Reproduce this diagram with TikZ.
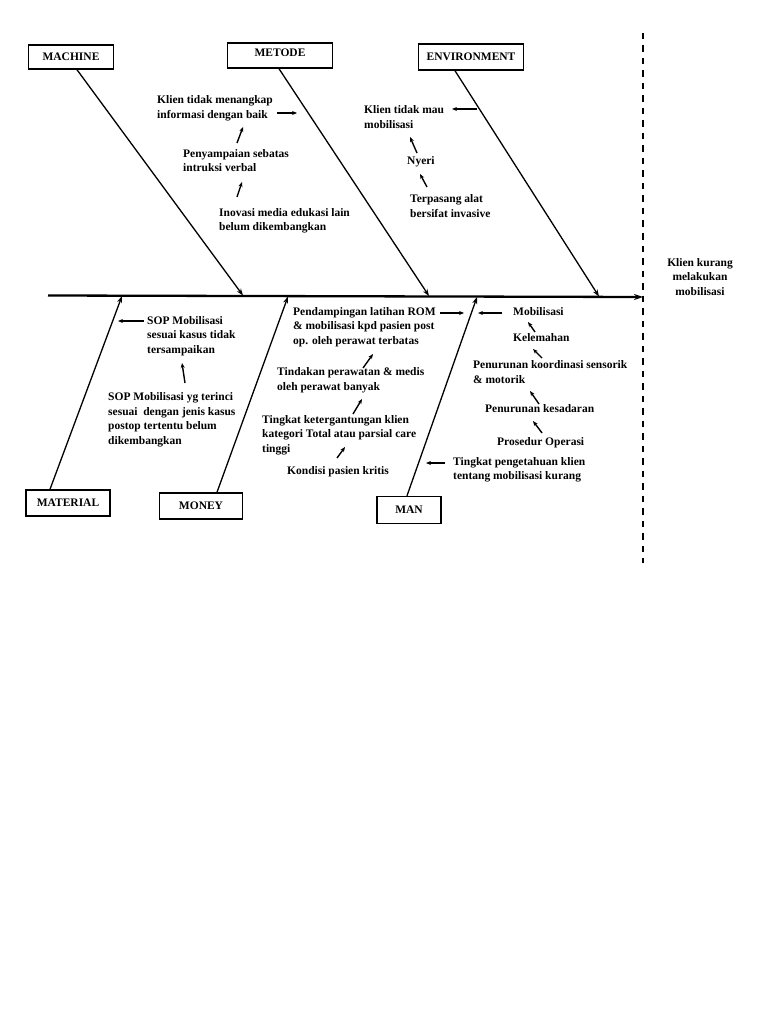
\documentclass[tikz,border=0pt]{standalone}
\usepackage{fontspec}
\setmainfont{Liberation Serif}
\usetikzlibrary{arrows.meta}

\begin{document}
\begin{tikzpicture}[x=1pt, y=-1pt,
	kotak/.style={draw, line width=1.5pt, inner sep=0pt, font=\bfseries\fontsize{11.5}{13}\selectfont},
	teks/.style={anchor=west, align=left, inner sep=0pt, font=\bfseries\fontsize{11.5}{14.5}\selectfont},
	tulang/.style={line width=1.3pt, -{Stealth[length=7pt,width=5pt]}},
	panah/.style={line width=1.4pt, -{Stealth[length=5pt,width=4pt]}}]
				\useasboundingbox (0,0) rectangle (768,1024);
				% kategori
				\node [kotak, minimum width=85pt, minimum height=24pt] (machine) at (71,57) {MACHINE};
				\node [kotak, minimum width=105pt, minimum height=25pt, text depth=6pt] (metode) at (280,55.5) {METODE};
				\node [kotak, minimum width=105pt, minimum height=26pt] (environment) at (471,57) {ENVIRONMENT};
				\node [kotak, minimum width=84pt, minimum height=26pt] (material) at (68,503) {MATERIAL};
				\node [kotak, minimum width=83pt, minimum height=26pt] (money) at (201,506) {MONEY};
				\node [kotak, minimum width=64pt, minimum height=27pt] (man) at (409,510) {MAN};
				% tulang utama
				\coordinate (ekor) at (48,295.5);
				\coordinate (kepala) at (643,297);
				\coordinate (S1) at (243,295.5);
				\coordinate (S2) at (429,296);
				\coordinate (S3) at (599,296.5);
				\coordinate (S4) at (122,296);
				\coordinate (S5) at (288,296.5);
				\coordinate (S6) at (477,297);
				\draw[line width=2.3pt, -{Stealth[length=9pt,width=6pt]}] (ekor) -- (kepala);
				\draw[tulang] (machine.south) ++(6,0) -- (S1);
				\draw[tulang] (metode.south) ++(-1,0) -- (S2);
				\draw[tulang] (environment.south) ++(-16,0) -- (S3);
				\draw[tulang] (material.north) ++(-18,0) -- (S4);
				\draw[tulang] (money.north) ++(16,0) -- (S5);
				\draw[tulang] (man.north) ++(-2,0) -- (S6);
				% garis batas
				\coordinate (G1) at (643,33);
				\coordinate (G2) at (643,563);
				\draw[line width=1.8pt, dash pattern=on 6.5pt off 6pt] (G1) -- (G2);
				\node [teks, anchor=center, align=center] (efek) at (700,277) {Klien kurang\\melakukan\\mobilisasi};
				% metode
				\node [teks] (tangkap) at (157,108.5) {Klien tidak menangkap\\informasi dengan baik};
				\node [teks] (sampai) at (183,160.5) {Penyampaian sebatas\\intruksi verbal};
				\node [teks] (inovasi) at (219,221) {Inovasi media edukasi lain\\belum dikembangkan};
				% environment
				\node [teks] (maumob) at (364,117) {Klien tidak mau\\mobilisasi};
				\node [teks] (nyeri) at (407,162) {Nyeri};
				\node [teks] (pasang) at (410,206) {Terpasang alat\\bersifat invasive};
				% material
				\node [teks] (sop1) at (147,336) {SOP Mobilisasi\\sesuai kasus tidak\\tersampaikan};
				\node [teks] (sop2) at (108,420) {SOP Mobilisasi yg terinci\\sesuai \ dengan jenis kasus\\postop tertentu belum\\dikembangkan};
				% money
				\node [teks] (damping) at (293,327) {Pendampingan latihan ROM\\\& mobilisasi kpd pasien post\\op. oleh perawat terbatas};
				\node [teks] (tindakan) at (277,380) {Tindakan perawatan \& medis\\oleh perawat banyak};
				\node [teks] (tingkat) at (262,435) {Tingkat ketergantungan klien\\kategori Total atau parsial care\\tinggi};
				\node [teks] (kondisi) at (287,472) {Kondisi pasien kritis};
				% man
				\node [teks] (mobil) at (513,312) {Mobilisasi};
				\node [teks] (lemah) at (513,338) {Kelemahan};
				\node [teks] (koord) at (473,372) {Penurunan koordinasi sensorik\\\& motorik};
				\node [teks] (sadar) at (485,409) {Penurunan kesadaran};
				\node [teks] (prosedur) at (497,443) {Prosedur Operasi};
				\node [teks] (tahu) at (453,470) {Tingkat pengetahuan klien\\tentang mobilisasi kurang};
				% panah sebab
				\coordinate (a1) at (277,113); \coordinate (b1) at (297,113);
				\coordinate (a2) at (237,143); \coordinate (b2) at (243,127);
				\coordinate (a3) at (237,197); \coordinate (b3) at (242,182);
				\coordinate (a4) at (477,109); \coordinate (b4) at (452,109);
				\coordinate (a5) at (417,153); \coordinate (b5) at (410,137);
				\coordinate (a6) at (427,187); \coordinate (b6) at (420,174);
				\coordinate (a7) at (144,321); \coordinate (b7) at (118,321);
				\coordinate (a8) at (185,383); \coordinate (b8) at (182,363);
				\coordinate (a9) at (440,313); \coordinate (b9) at (464,313);
				\coordinate (a10) at (363,368); \coordinate (b10) at (373,354);
				\coordinate (a11) at (353,414); \coordinate (b11) at (362,399);
				\coordinate (a12) at (337,458); \coordinate (b12) at (345,447);
				\coordinate (a13) at (502,313); \coordinate (b13) at (478,313);
				\coordinate (a14) at (535,332); \coordinate (b14) at (528,322);
				\coordinate (a15) at (542,358); \coordinate (b15) at (533,349);
				\coordinate (a16) at (539,404); \coordinate (b16) at (530,391);
				\coordinate (a17) at (542,433); \coordinate (b17) at (533,421);
				\coordinate (a18) at (445,463); \coordinate (b18) at (426,463);
				\draw[panah] (a1) -- (b1);
				\draw[panah] (a2) -- (b2);
				\draw[panah] (a3) -- (b3);
				\draw[panah] (a4) -- (b4);
				\draw[panah] (a5) -- (b5);
				\draw[panah] (a6) -- (b6);
				\draw[panah] (a7) -- (b7);
				\draw[panah] (a8) -- (b8);
				\draw[panah] (a9) -- (b9);
				\draw[panah] (a10) -- (b10);
				\draw[panah] (a11) -- (b11);
				\draw[panah] (a12) -- (b12);
				\draw[panah] (a13) -- (b13);
				\draw[panah] (a14) -- (b14);
				\draw[panah] (a15) -- (b15);
				\draw[panah] (a16) -- (b16);
				\draw[panah] (a17) -- (b17);
				\draw[panah] (a18) -- (b18);
			\end{tikzpicture}
\end{document}
